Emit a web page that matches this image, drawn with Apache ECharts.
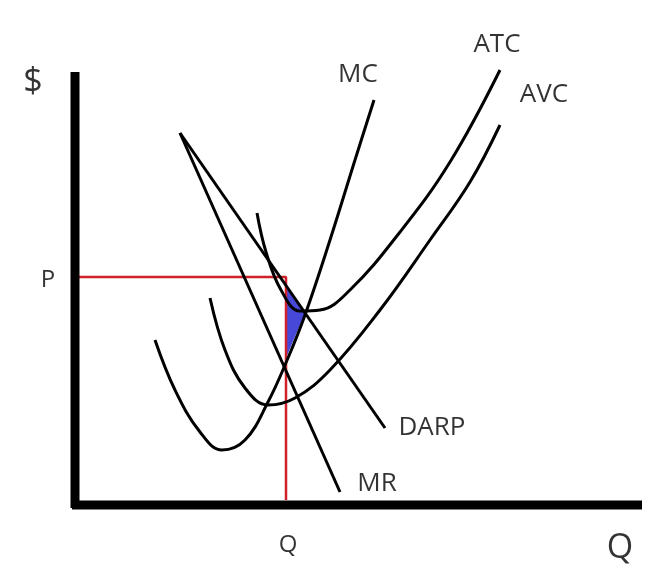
<!DOCTYPE html>
<html>
<head>
<meta charset="utf-8">
<script src="https://cdn.jsdelivr.net/npm/echarts@6/dist/echarts.min.js"></script>
<style>html,body{margin:0;background:#fff}#chart{width:664px;height:588px}</style>
</head>
<body>
<div id="chart"></div>
<script>
// Curves in the diagram's own coordinate space (x right, y down)
const axisY = [[75, 72], [75, 508]];
const axisX = [[72, 505], [642, 505]];
const mcCurve = [[155,340],[175,390],[200,432],[222,450],[245,440],[268,402],[288,358],[305,315],[330,240],[355,160],[374,100]];
const avcCurve = [[210,298],[225,350],[245,388],[268,405],[295,398],[330,370],[380,310],[430,240],[470,182],[500,125]];
const atcCurve = [[257,213],[266,252],[281,290],[300,311],[320,310],[350,290],[400,232],[450,162],[500,70]];
const darpLine = [[180,133],[385,428]];
const mrLine = [[180,133],[340,492]];
const priceLine = [[75,277],[286,277],[286,500]];
const shaded = [[286,285],[305,313],[286,358]];
const labels = [
  { name: '$', pos: [33, 82], size: 34 },
  { name: 'P', pos: [48, 280], size: 24 },
  { name: 'Q', pos: [288, 545], size: 24 },
  { name: 'Q', pos: [620, 548], size: 34 },
  { name: 'MC', pos: [358, 75], size: 26 },
  { name: 'ATC', pos: [497, 45], size: 26 },
  { name: 'AVC', pos: [544, 95], size: 26 },
  { name: 'DARP', pos: [432, 428], size: 26 },
  { name: 'MR', pos: [377, 484], size: 26 }
];

const chart = echarts.init(document.getElementById('chart'));

function curve(data, color, width, smooth) {
  return {
    type: 'line', data: data, smooth: smooth ? 0.4 : false, symbol: 'none',
    lineStyle: { color: color, width: width }, silent: true, z: 2
  };
}

chart.setOption({
  animation: false,
  grid: { left: 0, right: 0, top: 0, bottom: 0 },
  xAxis: { type: 'value', min: 0, max: 664, show: false },
  yAxis: { type: 'value', min: 0, max: 588, inverse: true, show: false },
  series: [
    {
      type: 'custom', silent: true, z: 1,
      data: [0],
      renderItem: function (params, api) {
        return {
          type: 'polygon',
          shape: { points: shaded.map(p => api.coord(p)) },
          style: { fill: '#4848d8' }
        };
      }
    },
    curve(priceLine, '#d0202a', 2.5, false),
    curve(axisY, '#000', 9, false),
    curve(axisX, '#000', 9, false),
    curve(mcCurve, '#000', 3, true),
    curve(avcCurve, '#000', 3, true),
    curve(atcCurve, '#000', 3, true),
    curve(darpLine, '#000', 3, false),
    curve(mrLine, '#000', 3, false),
    {
      type: 'scatter', symbolSize: 0, silent: true,
      data: labels.map(l => ({
        value: l.pos, name: l.name,
        label: { show: true, formatter: l.name, position: 'inside', fontSize: l.size,
          color: '#000', fontFamily: 'Open Sans' }
      }))
    }
  ]
});
</script>
</body>
</html>
